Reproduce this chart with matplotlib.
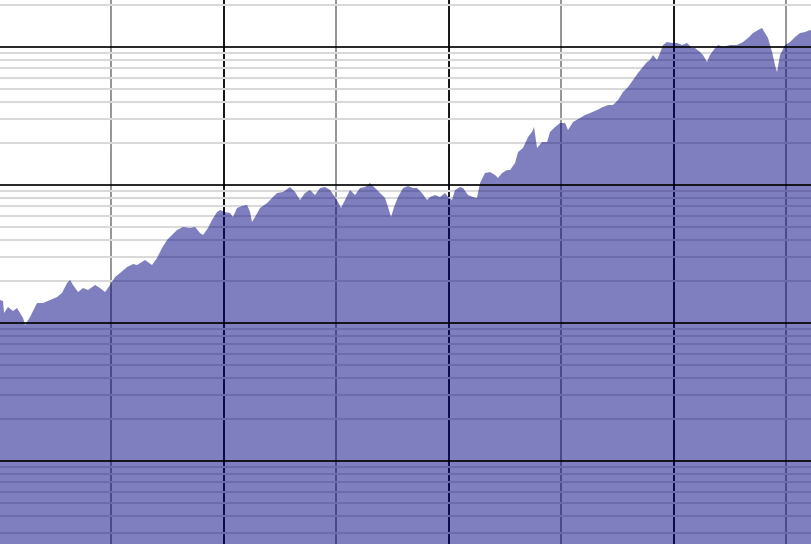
import numpy as np
import matplotlib
matplotlib.use("Agg")
import matplotlib.pyplot as plt
from matplotlib.ticker import LogLocator, FixedLocator

# time axis (grid lines fall on whole numbers)
t = [0.013, 0.040, 0.049, 0.084, 0.129, 0.164, 0.191, 0.218, 0.236, 0.280,
     0.342, 0.396, 0.458, 0.520, 0.564, 0.609, 0.636, 0.662, 0.707, 0.751,
     0.796, 0.858, 0.902, 0.947, 0.991, 1.036, 1.080, 1.142, 1.196, 1.231,
     1.302, 1.364, 1.409, 1.453, 1.498, 1.524, 1.587, 1.640, 1.702, 1.747,
     1.791, 1.818, 1.862, 1.898, 1.942, 1.969, 2.013, 2.058, 2.084, 2.120,
     2.164, 2.209, 2.236, 2.253, 2.280, 2.324, 2.387, 2.440, 2.476, 2.529,
     2.591, 2.636, 2.680, 2.724, 2.769, 2.813, 2.858, 2.902, 2.947, 2.991,
     3.018, 3.044, 3.080, 3.124, 3.169, 3.213, 3.258, 3.302, 3.347, 3.391,
     3.436, 3.462, 3.489, 3.516, 3.551, 3.596, 3.640, 3.684, 3.720, 3.764,
     3.809, 3.836, 3.880, 3.924, 3.969, 3.996, 4.031, 4.058, 4.102, 4.129,
     4.173, 4.218, 4.253, 4.280, 4.324, 4.369, 4.413, 4.440, 4.476, 4.520,
     4.547, 4.591, 4.618, 4.662, 4.707, 4.742, 4.760, 4.787, 4.831, 4.876,
     4.902, 4.947, 4.991, 5.036, 5.062, 5.107, 5.169, 5.213, 5.258, 5.320,
     5.373, 5.418, 5.462, 5.507, 5.551, 5.596, 5.640, 5.684, 5.720, 5.764,
     5.791, 5.818, 5.853, 5.880, 5.907, 5.942, 5.987, 6.031, 6.076, 6.120,
     6.164, 6.191, 6.236, 6.262, 6.298, 6.324, 6.369, 6.396, 6.440, 6.502,
     6.564, 6.618, 6.662, 6.707, 6.751, 6.787, 6.813, 6.840, 6.876, 6.902,
     6.920, 6.947, 6.991, 7.036, 7.080, 7.124, 7.169, 7.213, 7.231]

# index level (log scale)
level = [14.68, 14.43, 11.82, 13.06, 12.22, 12.85, 11.82, 10.87, 9.67, 11.05,
         13.96, 13.96, 14.68, 15.43, 16.50, 19.49, 20.49, 18.86, 16.77, 17.93,
         17.34, 18.86, 17.93, 16.77, 18.86, 21.54, 23.03, 25.46, 26.76, 26.32,
         28.61, 26.32, 29.58, 34.96, 39.94, 42.01, 47.20, 49.63, 48.81, 49.63,
         44.89, 43.42, 48.81, 55.77, 63.74, 65.90, 63.74, 62.69, 58.63, 68.13,
         70.44, 71.63, 63.74, 53.93, 58.63, 68.13, 74.06, 81.85, 87.50, 88.98,
         96.70, 88.98, 77.87, 87.50, 91.99, 84.63, 95.10, 96.70, 91.99, 81.85,
         75.30, 68.13, 77.87, 91.99, 84.63, 95.10, 96.70, 103.4, 95.10, 87.50,
         80.50, 69.27, 58.63, 69.27, 81.85, 95.10, 98.30, 95.10, 95.10, 87.50,
         77.87, 81.85, 84.63, 81.85, 87.50, 81.85, 77.87, 91.99, 96.70, 95.10,
         84.63, 81.85, 80.50, 103.4, 122.2, 124.2, 118.2, 112.4, 122.2, 128.4,
         128.4, 144.3, 173.4, 185.4, 222.7, 242.2, 263.3, 185.4, 204.9, 204.9,
         242.2, 263.3, 281.4, 281.4, 250.4, 286.1, 305.9, 321.5, 332.4, 349.5,
         367.5, 379.9, 379.9, 413.0, 472.0, 513.1, 576.8, 648.1, 704.4, 778.6,
         805.1, 874.9, 805.1, 904.6, 1034, 1087, 1069, 1069, 1034, 1069,
         983.5, 983.5, 919.9, 874.9, 778.6, 874.9, 983.5, 1034, 1000, 1034,
         1034, 1087, 1162, 1263, 1328, 1373, 1263, 1162, 919.9, 740.6,
         659.0, 874.9, 1034, 1087, 1182, 1263, 1284, 1328, 1306]

fig = plt.figure(figsize=(8.12, 5.44), dpi=100)
ax = fig.add_axes([0, 0, 1, 1])
ax.set_yscale("log")

# area under the curve, drawn above the faint grid
ax.fill_between(t, 0.1, level, color="navy", alpha=0.5, linewidth=0, zorder=2)

ax.set_xlim(0.013, 7.231)
ax.set_ylim(0.2504, 2191)

# grid
ax.xaxis.set_major_locator(FixedLocator([2, 4, 6]))
ax.xaxis.set_minor_locator(FixedLocator([1, 3, 5, 7]))
ax.yaxis.set_major_locator(LogLocator(base=10))
ax.yaxis.set_minor_locator(LogLocator(base=10, subs=np.arange(2, 10)))
ax.grid(True, axis="x", which="major", color="black", linewidth=1.3, zorder=1)
ax.grid(True, axis="x", which="minor", color="#777777", linewidth=1.1, zorder=1)
ax.grid(True, axis="y", which="minor", color="#d9d9d9", linewidth=1.5, zorder=1)
for yv in [1, 10, 100, 1000]:
    ax.axhline(yv, color="black", linewidth=1.2, zorder=3)

ax.tick_params(which="both", length=0, labelleft=False, labelbottom=False)
for s in ax.spines.values():
    s.set_visible(False)

fig.savefig("out.png", dpi=100)
